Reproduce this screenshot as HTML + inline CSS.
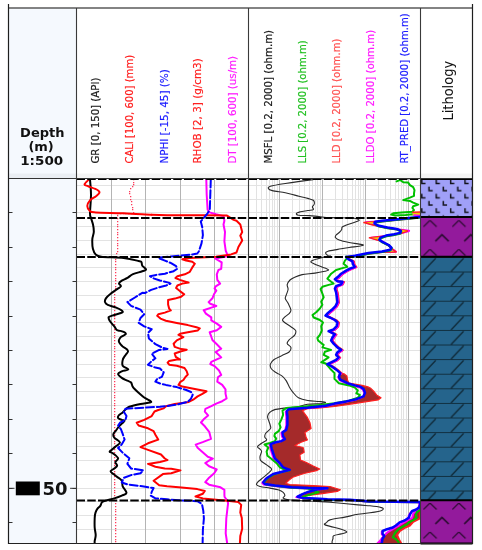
<!DOCTYPE html>
<html><head><meta charset="utf-8"><title>Well log</title>
<style>html,body{margin:0;padding:0;background:#fff;width:482px;height:550px;overflow:hidden}svg{display:block}</style>
</head><body><svg width="482" height="550" viewBox="0 0 482 550"><rect x="8.5" y="8.0" width="68.0" height="535.5" fill="#f5f9fe"/><rect x="8.5" y="173.5" width="464.0" height="4.5" fill="#000" fill-opacity="0.045"/><path d="M76.5 185.50H248.5M248.5 185.50H420.5M76.5 199.50H248.5M248.5 199.50H420.5M76.5 212.50H248.5M248.5 212.50H420.5M76.5 226.50H248.5M248.5 226.50H420.5M76.5 240.50H248.5M248.5 240.50H420.5M76.5 254.50H248.5M248.5 254.50H420.5M76.5 267.50H248.5M248.5 267.50H420.5M76.5 281.50H248.5M248.5 281.50H420.5M76.5 295.50H248.5M248.5 295.50H420.5M76.5 309.50H248.5M248.5 309.50H420.5M76.5 322.50H248.5M248.5 322.50H420.5M76.5 336.50H248.5M248.5 336.50H420.5M76.5 350.50H248.5M248.5 350.50H420.5M76.5 364.50H248.5M248.5 364.50H420.5M76.5 377.50H248.5M248.5 377.50H420.5M76.5 391.50H248.5M248.5 391.50H420.5M76.5 405.50H248.5M248.5 405.50H420.5M76.5 419.50H248.5M248.5 419.50H420.5M76.5 432.50H248.5M248.5 432.50H420.5M76.5 446.50H248.5M248.5 446.50H420.5M76.5 460.50H248.5M248.5 460.50H420.5M76.5 474.50H248.5M248.5 474.50H420.5M76.5 488.50H248.5M248.5 488.50H420.5M76.5 501.50H248.5M248.5 501.50H420.5M76.5 515.50H248.5M248.5 515.50H420.5M76.5 529.50H248.5M248.5 529.50H420.5M76.5 543.50H248.5M248.5 543.50H420.5" stroke="#e3e3e3" stroke-width="1" fill="none"/><path d="M111.50 178.5V543.5M145.50 178.5V543.5M180.50 178.5V543.5M214.50 178.5V543.5" stroke="#b4b4b4" stroke-width="1" fill="none"/><path d="M256.50 178.5V543.5M261.50 178.5V543.5M266.50 178.5V543.5M269.50 178.5V543.5M272.50 178.5V543.5M274.50 178.5V543.5M277.50 178.5V543.5M292.50 178.5V543.5M299.50 178.5V543.5M304.50 178.5V543.5M309.50 178.5V543.5M312.50 178.5V543.5M315.50 178.5V543.5M317.50 178.5V543.5M320.50 178.5V543.5M335.50 178.5V543.5M342.50 178.5V543.5M347.50 178.5V543.5M352.50 178.5V543.5M355.50 178.5V543.5M358.50 178.5V543.5M360.50 178.5V543.5M363.50 178.5V543.5M378.50 178.5V543.5M385.50 178.5V543.5M390.50 178.5V543.5M395.50 178.5V543.5M398.50 178.5V543.5M401.50 178.5V543.5M403.50 178.5V543.5M406.50 178.5V543.5" stroke="#e2e2e2" stroke-width="1" fill="none"/><path d="M279.50 178.5V543.5M322.50 178.5V543.5M365.50 178.5V543.5M408.50 178.5V543.5" stroke="#b4b4b4" stroke-width="1" fill="none"/><path d="M8.5 212.50h4M72.5 212.50h4M8.5 247.50h4M72.5 247.50h4M8.5 281.50h4M72.5 281.50h4M8.5 316.50h4M72.5 316.50h4M8.5 350.50h4M72.5 350.50h4M8.5 384.50h4M72.5 384.50h4M8.5 419.50h4M72.5 419.50h4M8.5 453.50h4M72.5 453.50h4M8.5 488.50h4M72.5 488.50h4M8.5 522.50h4M72.5 522.50h4" stroke="#333" stroke-width="1" fill="none"/><defs>
<pattern id="pL" patternUnits="userSpaceOnUse" x="421.1" y="178.2" width="14.4" height="14.4">
<path d="M0.7 1.2V5.2H4.4M7.9 8.4V12.4H11.6" stroke="#101018" stroke-width="1.5" fill="none"/>
</pattern>
<pattern id="pC1" patternUnits="userSpaceOnUse" x="423.4" y="220.3" width="28.9" height="28.9">
<path d="M0 6.5L6.6 0L13.3 6.5M12 20.9L18.6 14.4L25.3 20.9" stroke="#2a0a30" stroke-width="1.2" fill="none"/>
<path d="M-16.9 20.9L-10.3 14.4L-3.6 20.9" stroke="#2a0a30" stroke-width="1.2" fill="none" transform="translate(28.9 0)"/>
</pattern>
<pattern id="pC2" patternUnits="userSpaceOnUse" x="423.4" y="503" width="28.9" height="28.9">
<path d="M0 6.5L6.6 0L13.3 6.5M12 20.9L18.6 14.4L25.3 20.9" stroke="#2a0a30" stroke-width="1.2" fill="none"/>
<path d="M-16.9 20.9L-10.3 14.4L-3.6 20.9" stroke="#2a0a30" stroke-width="1.2" fill="none" transform="translate(28.9 0)"/>
</pattern>
<pattern id="pD" patternUnits="userSpaceOnUse" x="421.7" y="257.9" width="27.9" height="14.6">
<path d="M0 14.6H27.9" stroke="#081820" stroke-width="1.4" fill="none"/>
<path d="M1.5 13.6L14 0.4" stroke="#081820" stroke-width="1.1" fill="none"/>
</pattern>
</defs><rect x="420.5" y="179.0" width="52.0" height="38.0" fill="#a0a0f8"/><rect x="420.5" y="217.0" width="52.0" height="39.69999999999999" fill="#931a9c"/><rect x="420.5" y="256.7" width="52.0" height="243.5" fill="#25648c"/><rect x="420.5" y="500.2" width="52.0" height="43.30000000000001" fill="#931a9c"/><rect x="420.5" y="179.0" width="52.0" height="38.0" fill="url(#pL)"/><rect x="420.5" y="217.0" width="52.0" height="39.69999999999999" fill="url(#pC1)"/><rect x="420.5" y="256.7" width="52.0" height="243.5" fill="url(#pD)"/><rect x="420.5" y="500.2" width="52.0" height="43.30000000000001" fill="url(#pC2)"/><path d="M420.5 179.0H472.5M420.5 217.0H472.5M420.5 256.7H472.5M420.5 500.2H472.5M420.5 543.5H472.5" stroke="#000" stroke-width="2" fill="none"/><defs><clipPath id="c1"><rect x="76.5" y="178.5" width="172.0" height="365.0"/></clipPath><clipPath id="c2"><rect x="248.5" y="178.5" width="172.0" height="365.0"/></clipPath></defs><g clip-path="url(#c1)"><path d="M133 179h1.3v1.3h-1.3zM133 182h1.3v1.3h-1.3zM133 184h1.3v1.3h-1.3zM132 186h1.3v1.3h-1.3zM130 188h1.3v1.3h-1.3zM129 191h1.3v1.3h-1.3zM129 193h1.3v1.3h-1.3zM130 196h1.3v1.3h-1.3zM130 199h1.3v1.3h-1.3zM131 201h1.3v1.3h-1.3zM131 204h1.3v1.3h-1.3zM132 207h1.3v1.3h-1.3zM132 209h1.3v1.3h-1.3zM133 212h1.3v1.3h-1.3zM131 213h1.3v1.3h-1.3zM128 213h1.3v1.3h-1.3zM125 213h1.3v1.3h-1.3zM123 213h1.3v1.3h-1.3zM120 213h1.3v1.3h-1.3zM117 213h1.3v1.3h-1.3zM117 215h1.3v1.3h-1.3zM117 218h1.3v1.3h-1.3zM117 221h1.3v1.3h-1.3zM117 224h1.3v1.3h-1.3zM117 226h1.3v1.3h-1.3zM117 229h1.3v1.3h-1.3zM117 232h1.3v1.3h-1.3zM117 234h1.3v1.3h-1.3zM117 237h1.3v1.3h-1.3zM117 240h1.3v1.3h-1.3zM117 243h1.3v1.3h-1.3zM117 245h1.3v1.3h-1.3zM117 248h1.3v1.3h-1.3zM117 251h1.3v1.3h-1.3zM116 253h1.3v1.3h-1.3zM116 256h1.3v1.3h-1.3zM115 259h1.3v1.3h-1.3zM115 261h1.3v1.3h-1.3zM115 264h1.3v1.3h-1.3zM115 267h1.3v1.3h-1.3zM115 269h1.3v1.3h-1.3zM115 272h1.3v1.3h-1.3zM115 275h1.3v1.3h-1.3zM115 278h1.3v1.3h-1.3zM115 280h1.3v1.3h-1.3zM115 283h1.3v1.3h-1.3zM115 286h1.3v1.3h-1.3zM115 288h1.3v1.3h-1.3zM114 291h1.3v1.3h-1.3zM114 294h1.3v1.3h-1.3zM114 297h1.3v1.3h-1.3zM114 299h1.3v1.3h-1.3zM114 302h1.3v1.3h-1.3zM114 305h1.3v1.3h-1.3zM114 307h1.3v1.3h-1.3zM114 310h1.3v1.3h-1.3zM114 313h1.3v1.3h-1.3zM114 316h1.3v1.3h-1.3zM114 318h1.3v1.3h-1.3zM114 321h1.3v1.3h-1.3zM114 324h1.3v1.3h-1.3zM114 327h1.3v1.3h-1.3zM114 329h1.3v1.3h-1.3zM114 332h1.3v1.3h-1.3zM114 335h1.3v1.3h-1.3zM114 337h1.3v1.3h-1.3zM114 340h1.3v1.3h-1.3zM114 343h1.3v1.3h-1.3zM114 346h1.3v1.3h-1.3zM114 348h1.3v1.3h-1.3zM114 351h1.3v1.3h-1.3zM114 354h1.3v1.3h-1.3zM114 356h1.3v1.3h-1.3zM114 359h1.3v1.3h-1.3zM114 362h1.3v1.3h-1.3zM114 365h1.3v1.3h-1.3zM114 367h1.3v1.3h-1.3zM114 370h1.3v1.3h-1.3zM114 373h1.3v1.3h-1.3zM114 375h1.3v1.3h-1.3zM114 378h1.3v1.3h-1.3zM114 381h1.3v1.3h-1.3zM114 384h1.3v1.3h-1.3zM114 386h1.3v1.3h-1.3zM114 389h1.3v1.3h-1.3zM114 392h1.3v1.3h-1.3zM114 395h1.3v1.3h-1.3zM114 397h1.3v1.3h-1.3zM114 400h1.3v1.3h-1.3zM114 403h1.3v1.3h-1.3zM114 405h1.3v1.3h-1.3zM114 408h1.3v1.3h-1.3zM114 411h1.3v1.3h-1.3zM114 414h1.3v1.3h-1.3zM114 416h1.3v1.3h-1.3zM114 419h1.3v1.3h-1.3zM114 422h1.3v1.3h-1.3zM114 424h1.3v1.3h-1.3zM114 427h1.3v1.3h-1.3zM114 430h1.3v1.3h-1.3zM114 433h1.3v1.3h-1.3zM114 435h1.3v1.3h-1.3zM114 438h1.3v1.3h-1.3zM114 441h1.3v1.3h-1.3zM114 443h1.3v1.3h-1.3zM114 446h1.3v1.3h-1.3zM114 449h1.3v1.3h-1.3zM114 452h1.3v1.3h-1.3zM114 454h1.3v1.3h-1.3zM114 457h1.3v1.3h-1.3zM114 460h1.3v1.3h-1.3zM114 463h1.3v1.3h-1.3zM114 465h1.3v1.3h-1.3zM114 468h1.3v1.3h-1.3zM114 471h1.3v1.3h-1.3zM114 473h1.3v1.3h-1.3zM114 476h1.3v1.3h-1.3zM114 479h1.3v1.3h-1.3zM114 482h1.3v1.3h-1.3zM114 484h1.3v1.3h-1.3zM114 487h1.3v1.3h-1.3zM114 490h1.3v1.3h-1.3zM114 492h1.3v1.3h-1.3zM114 495h1.3v1.3h-1.3zM114 498h1.3v1.3h-1.3zM115 500h1.3v1.3h-1.3zM115 503h1.3v1.3h-1.3zM115 506h1.3v1.3h-1.3zM115 509h1.3v1.3h-1.3zM115 511h1.3v1.3h-1.3zM115 514h1.3v1.3h-1.3zM115 517h1.3v1.3h-1.3zM115 519h1.3v1.3h-1.3zM115 522h1.3v1.3h-1.3zM115 525h1.3v1.3h-1.3zM115 528h1.3v1.3h-1.3zM115 530h1.3v1.3h-1.3zM115 533h1.3v1.3h-1.3zM115 536h1.3v1.3h-1.3zM115 539h1.3v1.3h-1.3zM115 541h1.3v1.3h-1.3z" fill="#ff3a5a"/><path d="M90.0,179.5C90.2,182.0 91.0,189.1 91.0,194.7C91.0,200.3 90.0,209.4 90.0,213.3C90.0,217.2 90.5,216.1 91.0,218.0C91.5,219.9 92.5,222.2 93.0,224.5C93.5,226.8 93.9,229.5 93.8,232.0C93.7,234.5 92.4,236.7 92.3,239.5C92.2,242.3 92.3,246.3 92.9,248.8C93.5,251.3 94.3,253.1 95.7,254.4C97.1,255.7 96.6,256.1 101.3,256.7C106.0,257.3 117.5,257.3 123.7,258.0C129.9,258.7 135.7,260.3 138.6,261.0C141.5,261.7 140.8,261.2 141.4,262.0C142.0,262.8 141.5,264.4 142.3,265.7C143.1,266.9 146.1,268.6 146.1,269.5C146.1,270.4 144.5,270.5 142.3,271.3C140.1,272.1 135.5,273.0 133.0,274.1C130.5,275.2 129.3,276.8 127.4,277.9C125.5,279.0 123.2,279.8 121.8,280.7C120.4,281.6 119.2,282.6 119.0,283.5C118.8,284.4 121.2,285.4 120.9,286.3C120.6,287.2 118.8,287.9 117.1,289.1C115.4,290.3 112.5,292.1 110.6,293.7C108.7,295.2 106.8,297.0 105.9,298.4C105.0,299.8 104.7,301.0 105.0,302.1C105.3,303.2 105.9,304.0 107.8,304.9C109.7,305.8 113.7,306.6 116.2,307.7C118.7,308.8 122.1,310.6 122.7,311.5C123.3,312.4 121.5,312.7 119.9,313.3C118.4,313.9 115.3,314.6 113.4,315.2C111.5,315.8 109.3,316.2 108.7,317.1C108.1,318.0 108.8,319.2 109.7,320.8C110.6,322.4 113.1,324.9 114.3,326.4C115.5,327.9 115.8,329.2 116.8,330.0C117.8,330.8 119.2,330.5 120.5,330.9C121.8,331.3 124.1,331.9 124.9,332.5C125.7,333.1 126.1,333.7 125.5,334.4C124.9,335.1 122.3,335.9 121.2,336.8C120.1,337.7 119.3,339.1 119.0,340.0C118.7,340.9 118.7,341.4 119.3,342.4C119.9,343.4 121.2,345.0 122.4,346.2C123.7,347.4 125.9,348.4 126.8,349.3C127.7,350.2 128.1,350.7 128.0,351.5C127.9,352.3 126.7,353.4 126.1,354.3C125.5,355.2 124.9,355.8 124.3,356.8C123.7,357.8 123.0,358.6 122.7,360.1C122.4,361.6 121.8,364.1 122.7,365.7C123.6,367.3 128.5,368.6 128.3,369.5C128.2,370.4 123.5,370.5 121.8,371.3C120.1,372.1 118.1,373.0 118.1,374.1C118.1,375.2 120.2,376.8 121.8,377.9C123.3,379.0 125.9,379.9 127.4,380.7C129.0,381.5 130.2,381.4 131.1,382.5C132.0,383.6 131.8,385.5 133.0,387.2C134.2,388.9 136.7,391.1 138.6,392.8C140.5,394.5 142.2,396.1 144.2,397.5C146.2,398.9 149.8,400.4 150.7,401.2C151.6,402.0 151.5,402.0 149.8,402.5C148.1,403.0 143.9,403.3 140.5,404.0C137.1,404.7 131.8,405.9 129.3,406.8C126.8,407.7 126.6,408.7 125.5,409.6C124.4,410.5 123.8,411.5 122.7,412.4C121.6,413.3 119.8,414.3 119.0,415.2C118.2,416.1 117.6,417.2 118.1,418.0C118.6,418.8 120.7,419.4 121.8,419.9C122.9,420.4 124.6,420.2 124.6,420.8C124.6,421.4 122.7,422.7 121.8,423.6C120.9,424.5 119.9,425.3 119.0,426.4C118.1,427.5 117.1,428.9 116.2,430.2C115.3,431.5 113.7,432.8 113.4,434.0C113.1,435.2 113.2,436.3 114.3,437.7C115.4,439.1 119.6,441.0 119.9,442.4C120.2,443.8 117.6,444.9 116.2,446.1C114.8,447.4 112.6,449.0 111.5,449.9C110.4,450.8 109.4,451.1 109.7,451.7C110.0,452.3 112.0,452.5 113.4,453.6C114.8,454.7 117.8,456.9 118.1,458.3C118.4,459.7 115.5,460.8 115.3,462.0C115.1,463.2 117.3,464.6 117.1,465.7C116.9,466.8 115.4,467.6 114.3,468.5C113.2,469.4 110.8,470.4 110.6,471.3C110.4,472.2 112.3,473.2 113.4,474.1C114.5,475.0 115.7,475.8 117.1,476.9C118.5,478.0 120.9,479.1 121.8,480.7C122.7,482.3 121.9,484.3 122.7,486.3C123.5,488.3 126.7,491.2 126.5,492.8C126.3,494.4 123.8,494.7 121.8,495.6C119.8,496.5 116.8,497.6 114.3,498.4C111.8,499.2 108.9,499.7 106.9,500.3C104.9,500.9 103.3,501.2 102.2,502.1C101.1,503.0 101.1,504.8 100.3,505.9C99.5,507.0 98.3,507.6 97.5,508.7C96.7,509.8 96.0,511.1 95.5,512.6C95.0,514.1 94.8,515.5 94.7,518.0C94.6,520.5 94.5,524.8 94.7,527.7C94.9,530.6 95.7,533.0 95.7,535.2C95.7,537.4 94.9,539.4 94.7,540.8C94.5,542.2 94.7,543.0 94.7,543.5" stroke="#000" stroke-width="2" fill="none" stroke-linejoin="round" stroke-linecap="round" /><polyline points="206.3,179.5 206.7,194.7 207.6,209.6 209.5,212.4 216.0,214.3 223.5,216.1 224.4,220.8 223.5,224.5 225.0,232.0 224.4,241.3 225.7,250.7 227.2,254.4 229.1,255.9 215.2,258.5 221.7,262.4 221.2,268.9 218.4,270.0 216.8,274.3 217.3,279.8 220.1,283.6 215.7,286.3 214.6,288.5 216.3,290.7 214.1,294.0 212.4,298.3 208.6,302.1 210.3,303.8 216.3,306.0 211.3,307.6 203.7,310.3 205.9,313.6 211.3,317.4 211.3,320.4 216.8,323.6 221.2,326.9 216.8,330.2 209.7,332.3 211.3,336.7 212.4,340.0 216.8,344.3 221.2,348.7 215.7,352.0 221.2,357.4 211.3,361.8 210.3,364.0 214.6,366.1 219.0,370.5 221.2,374.9 217.9,377.3 217.3,381.6 222.2,384.9 225.5,389.3 225.5,393.6 226.6,398.5 222.2,401.2 216.8,403.4 211.3,406.2 205.4,408.9 204.8,411.6 208.1,415.4 204.3,418.7 201.0,422.5 204.8,426.3 209.2,431.8 209.7,433.8 211.0,438.9 202.7,442.1 195.7,444.6 197.6,447.8 202.7,452.3 207.8,456.7 212.9,458.6 209.1,460.5 205.3,463.1 209.1,466.3 216.7,469.4 214.2,473.3 209.1,477.7 205.3,482.2 209.1,484.7 220.5,487.3 224.4,489.8 224.4,494.9 224.6,497.0 227.2,500.3 228.1,503.1 227.2,510.5 226.3,518.4 225.7,533.3 227.2,543.5" stroke="#ff00ff" stroke-width="2" fill="none" stroke-linejoin="round" stroke-linecap="round" /><path d="M88.2,180.2C87.6,180.9 84.5,183.4 84.5,184.4C84.5,185.4 86.0,185.4 88.2,186.3C90.4,187.2 95.6,188.9 97.5,190.0C99.4,191.1 99.7,191.7 99.4,192.8C99.1,193.9 97.3,195.2 95.7,196.5C94.1,197.8 91.4,198.7 90.0,200.3C88.6,201.9 87.3,204.1 87.3,205.9C87.3,207.7 88.6,210.0 90.0,211.1C91.4,212.2 90.1,212.0 95.7,212.4C101.3,212.8 114.4,212.9 123.7,213.3C133.0,213.7 147.0,214.6 151.7,214.8" stroke="#ff0000" stroke-width="2" fill="none" stroke-linejoin="round" stroke-linecap="round" /><polyline points="151.7,214.8 167.0,215.2 204.8,215.2 227.0,215.6 233.7,219.9 236.5,220.8 240.3,224.5 242.2,232.0 240.3,235.7 242.2,240.4 238.4,247.0 236.5,252.5 231.0,254.4 216.0,256.7 200.0,257.5 189.8,258.1 182.3,259.3 186.1,260.6 192.3,261.8 194.8,263.7 192.3,267.4 189.8,271.8 184.8,274.3 177.4,276.2 175.5,278.0 179.9,279.9 188.6,282.6 182.3,283.6 177.4,285.5 176.1,288.0 179.9,291.1 184.2,294.2 181.1,296.7 174.9,298.6 168.1,300.0 168.1,304.4 169.2,308.7 170.8,310.4 164.8,312.6 158.3,314.2 157.2,315.8 160.5,318.6 165.9,320.7 176.8,322.9 187.8,325.1 196.5,327.3 199.8,328.4 197.6,330.6 187.8,332.2 180.1,333.8 178.5,334.9 183.4,337.1 176.8,340.4 173.6,343.7 174.7,346.9 181.2,349.1 186.7,349.7 181.2,351.3 174.7,353.5 175.7,356.8 180.1,359.5 176.8,359.5 169.2,360.9 167.6,362.6 169.2,364.7 176.8,365.8 184.5,368.0 186.7,371.3 187.8,374.6 185.6,376.7 183.4,380.0 180.1,382.2 178.5,384.9 182.3,386.6 191.0,388.2 198.7,389.8 206.5,391.3 201.9,394.2 197.6,396.4 193.2,399.7 188.8,401.9 182.3,402.9 174.7,404.0 165.9,406.2 163.7,408.4 158.3,410.0 154.5,411.5 151.7,416.1 144.2,419.9 136.7,422.7 138.6,425.5 148.0,428.3 153.6,431.1 155.4,434.8 158.2,439.6 148.0,443.3 140.5,447.1 148.0,449.9 161.0,454.5 164.8,458.5 167.5,460.1 160.0,462.0 148.0,463.9 155.4,466.7 164.8,468.5 171.2,468.8 180.5,470.4 171.2,473.2 162.9,474.1 153.6,480.7 159.2,485.3 167.0,486.3 178.7,487.2 197.3,489.1 204.8,491.0 202.9,493.7 195.5,496.5 202.9,498.4 216.0,499.7 227.2,500.8 238.4,502.1 241.2,504.9 240.3,512.4 241.8,518.0 242.2,528.7 240.3,536.1 239.9,543.5" stroke="#ff0000" stroke-width="2" fill="none" stroke-linejoin="round" stroke-linecap="round" /><polyline points="210.8,179.5 210.3,194.7 209.8,209.6 207.6,213.3 205.0,216.5 200.8,221.4 202.2,226.9 202.9,235.2 201.5,243.4 198.8,251.5 197.3,253.5 192.3,254.4 181.1,255.6 171.1,256.5 158.7,257.5 158.7,258.1 164.9,260.6 171.1,263.1 176.1,266.2 177.4,268.7 173.6,271.2 164.9,273.7 156.2,274.9 150.0,276.2 152.5,278.0 159.9,280.5 168.6,282.6 170.5,283.6 166.2,285.5 158.7,287.4 151.2,289.9 145.0,293.0 142.3,292.8 134.9,297.5 127.4,302.1 131.1,305.9 140.5,309.6 144.2,314.3 140.5,318.0 138.6,322.7 144.2,326.4 151.7,329.2 148.0,332.9 148.9,338.5 155.4,344.2 162.9,347.9 167.5,348.9 159.2,349.9 151.7,353.6 155.4,358.3 151.7,361.1 148.0,364.8 155.4,367.6 160.0,368.5 163.7,372.3 161.9,376.9 157.3,378.8 155.4,381.6 160.0,383.5 165.9,384.9 176.8,387.1 185.6,389.8 191.0,392.0 192.7,394.8 191.0,398.6 187.8,401.9 176.8,404.6 165.9,406.2 160.0,406.7 146.0,407.5 125.5,408.7 123.7,411.5 126.5,416.1 125.5,419.9 120.0,422.7 118.1,425.5 120.9,429.2 122.7,433.9 124.6,439.6 121.8,444.3 118.1,448.0 122.7,452.7 129.3,458.3 127.4,463.9 131.1,468.5 143.3,470.4 140.5,473.2 131.1,475.1 123.7,477.9 121.8,482.5 127.4,484.4 142.3,486.3 153.6,488.1 151.7,491.9 150.7,495.6 155.4,498.4 167.0,499.3 178.7,500.3 197.3,501.2 202.0,504.0 203.3,510.9 203.9,518.4 202.9,529.6 202.6,543.5" stroke="#0000ff" stroke-width="2" fill="none" stroke-linejoin="round" stroke-linecap="round" stroke-dasharray="8 2.8" stroke-linecap="butt"/></g><g clip-path="url(#c2)"><path d="M313.0,179.6C308.4,180.2 292.4,182.4 285.3,183.5C278.2,184.6 273.2,185.4 270.4,186.3C267.6,187.2 268.2,188.0 268.5,188.7C268.8,189.4 269.5,189.9 272.3,190.6C275.1,191.3 281.3,192.0 285.3,192.8C289.3,193.6 292.8,194.7 296.5,195.6C300.2,196.5 304.9,197.6 307.7,198.4C310.5,199.2 312.2,199.4 313.3,200.3C314.4,201.2 314.5,202.9 314.3,204.0C314.1,205.1 312.6,205.9 312.4,206.8C312.2,207.7 314.1,209.0 313.3,209.6C312.5,210.2 309.9,210.1 307.7,210.5C305.5,210.9 302.2,211.3 300.3,211.8C298.4,212.3 296.8,212.7 296.5,213.3C296.2,213.9 296.2,214.8 298.4,215.2C300.6,215.6 306.2,215.4 309.6,215.6C313.0,215.8 315.6,216.3 319.0,216.6C322.4,216.9 324.5,217.4 330.0,217.6C335.5,217.8 347.1,217.6 352.0,218.0C356.9,218.4 358.5,219.4 359.1,220.1C359.7,220.8 357.3,221.3 355.4,222.0C353.5,222.7 350.1,223.7 347.9,224.5C345.7,225.3 343.3,226.2 342.3,227.0C341.3,227.8 342.2,228.5 341.7,229.4C341.2,230.3 340.1,231.6 339.2,232.5C338.3,233.4 336.7,234.2 336.1,235.0C335.5,235.8 334.9,236.7 335.4,237.5C335.9,238.3 336.9,239.2 339.2,240.0C341.5,240.8 345.8,241.8 349.1,242.5C352.4,243.2 356.7,243.7 359.1,244.1C361.5,244.5 363.5,244.7 363.5,245.0C363.5,245.3 361.5,245.8 359.1,246.2C356.7,246.6 352.6,247.0 349.1,247.5C345.6,248.0 341.4,248.8 337.9,249.4C334.4,250.0 330.1,250.6 328.0,251.2C325.9,251.8 325.5,252.4 325.5,253.1C325.5,253.8 327.2,255.1 328.0,255.6C328.8,256.1 331.4,255.9 330.5,256.2C329.6,256.5 325.6,256.7 322.4,257.5C319.2,258.3 312.4,260.1 311.2,261.2C310.0,262.3 312.7,263.1 315.0,264.3C317.3,265.5 322.6,267.2 324.9,268.1C327.2,269.1 328.7,269.5 328.7,270.0C328.7,270.5 327.2,270.7 324.9,271.2C322.6,271.7 318.8,272.5 315.0,273.1C311.2,273.7 305.5,273.9 302.1,274.6C298.7,275.3 296.7,276.3 294.7,277.2C292.7,278.1 291.2,278.8 290.0,280.0C288.8,281.2 287.5,283.1 287.2,284.7C286.9,286.2 288.2,287.6 288.1,289.3C288.0,291.0 286.8,293.3 286.3,294.9C285.8,296.5 285.0,297.3 285.3,298.7C285.6,300.1 287.2,301.4 288.1,303.3C289.0,305.2 290.7,308.2 290.9,309.9C291.1,311.6 290.2,312.4 289.1,313.6C288.0,314.8 285.5,316.2 284.4,317.3C283.3,318.4 282.4,319.2 282.5,320.1C282.6,321.1 283.9,321.9 285.3,323.0C286.7,324.1 289.2,325.5 290.9,326.7C292.6,327.9 295.0,329.0 295.6,330.4C296.2,331.8 295.8,333.5 294.7,335.1C293.6,336.7 290.4,338.4 289.1,339.8C287.9,341.2 286.9,342.4 287.2,343.6C287.5,344.9 290.6,345.9 290.9,347.3C291.2,348.7 290.7,350.6 289.1,352.0C287.6,353.4 284.1,354.4 281.6,355.7C279.1,356.9 276.0,358.1 274.1,359.5C272.2,360.9 270.9,362.6 270.4,364.1C269.9,365.7 270.4,367.4 271.3,368.8C272.2,370.2 274.1,371.2 276.0,372.5C277.9,373.8 280.8,374.9 282.5,376.3C284.2,377.7 285.2,379.2 286.3,380.9C287.4,382.6 288.0,384.6 289.1,386.5C290.2,388.4 291.2,390.2 292.8,392.1C294.4,394.0 295.9,396.3 298.4,397.7C300.9,399.1 304.3,399.9 307.7,400.5C311.1,401.1 316.0,401.2 319.0,401.5C322.0,401.8 325.2,402.0 325.5,402.4C325.8,402.8 323.8,403.4 320.8,403.7C317.8,404.0 311.8,403.7 307.7,404.3C303.6,404.9 300.2,406.5 296.5,407.1C292.8,407.7 289.0,407.5 285.3,408.0C281.6,408.5 276.7,409.1 274.1,409.9C271.5,410.7 270.6,411.6 269.5,412.7C268.4,413.8 267.8,415.2 267.6,416.4C267.4,417.6 268.0,418.5 268.5,420.1C269.0,421.7 270.1,424.4 270.4,425.8C270.7,427.2 271.2,427.4 270.4,428.7C269.6,429.9 266.6,431.9 265.7,433.3C264.8,434.7 264.6,436.0 264.8,437.1C265.0,438.2 267.1,439.0 266.6,440.0C266.1,441.0 263.1,442.2 261.6,443.3C260.1,444.4 257.8,445.6 257.5,446.6C257.2,447.6 259.3,448.3 260.0,449.1C260.7,449.9 261.6,450.4 261.6,451.6C261.6,452.9 260.1,455.1 260.0,456.6C259.9,458.1 259.7,459.3 260.8,460.7C261.9,462.1 264.8,463.5 266.6,464.9C268.4,466.3 271.3,467.6 271.6,469.0C271.9,470.4 269.8,471.7 268.3,473.2C266.8,474.7 264.2,476.7 262.4,478.2C260.6,479.7 258.5,481.2 257.5,482.3C256.5,483.4 256.2,484.1 256.6,484.8C257.0,485.5 257.8,485.9 260.0,486.5C262.2,487.1 266.9,487.6 269.9,488.1C272.9,488.7 276.0,489.1 278.2,489.8C280.4,490.5 282.1,491.3 283.2,492.3C284.3,493.3 284.9,494.6 284.9,495.6C284.9,496.6 282.6,497.4 283.2,498.1C283.8,498.8 285.4,499.4 288.2,499.8C291.0,500.2 295.1,500.3 299.8,500.6C304.5,500.9 311.4,501.1 316.4,501.4C321.4,501.7 323.1,501.6 330.0,502.2C336.9,502.8 351.3,504.3 358.0,504.9C364.7,505.5 366.1,505.4 370.0,505.8C373.9,506.2 379.2,507.0 381.4,507.6C383.6,508.2 383.3,508.7 383.1,509.3C382.9,509.9 381.7,510.5 380.3,511.0C378.9,511.5 378.3,511.6 374.6,512.1C370.9,512.6 362.9,513.5 358.0,514.3C353.1,515.1 349.6,516.2 344.9,517.1C340.2,518.0 333.1,519.0 330.0,519.9C326.9,520.8 327.3,521.9 326.4,522.7C325.5,523.5 323.9,523.9 324.5,524.5C325.1,525.1 327.4,525.6 330.2,526.4C333.0,527.2 338.4,528.3 341.2,529.2C344.0,530.1 346.8,531.2 346.8,532.0C346.8,532.8 343.4,533.3 341.2,533.9C339.0,534.5 335.1,534.9 333.7,535.7C332.3,536.5 333.3,537.4 333.0,538.5C332.7,539.6 332.0,541.4 332.0,542.3C332.0,543.2 332.8,543.7 333.0,544.0" stroke="#2a2a2a" stroke-width="1.1" fill="none" stroke-linejoin="round" stroke-linecap="round" /><polyline points="396.6,181.4 398.5,180.6 400.4,180.1 403.3,182.2 408.2,182.6 409.9,185.1 413.2,187.2 414.5,190.1 414.0,193.4 414.0,195.9 409.9,197.6 403.3,200.1 409.9,200.9 413.2,202.6 418.2,204.6 413.2,206.3 412.4,208.0 414.0,210.0 412.4,211.7 401.6,212.5 393.3,213.3 391.2,214.6 395.0,215.4 405.7,215.0 412.4,214.2 424.0,214.6" stroke="#00c000" stroke-width="2" fill="none" stroke-linejoin="round" stroke-linecap="round" /><polygon points="412.5,212.2 421.0,211.8 421.0,215.8 412.5,215.0" fill="#f0d000"/><polyline points="412.5,212.3 421.0,212.0" stroke="#ff2020" stroke-width="1.4" fill="none" stroke-linejoin="round" stroke-linecap="round" /><polyline points="414.0,215.0 421.0,215.6" stroke="#ff00ff" stroke-width="1.4" fill="none" stroke-linejoin="round" stroke-linecap="round" /><polygon points="340.3,373.1 344.0,373.8 346.9,376.0 347.6,380.3 349.0,383.2 362.1,385.4 367.9,386.9 370.8,388.3 373.7,391.2 376.6,394.9 381.0,397.8 378.1,399.9 363.6,402.1 349.0,404.3 334.5,406.5 320.0,407.9 307.4,408.7 302.4,410.6 307.4,417.4 309.9,422.4 311.1,428.6 304.9,432.4 306.1,437.4 307.4,439.9 301.1,442.3 294.9,445.5 303.1,447.5 303.6,449.2 304.2,452.3 299.9,454.8 300.5,460.0 305.9,462.3 313.3,466.0 319.7,469.0 316.4,470.7 304.0,473.5 292.8,477.2 289.1,480.0 285.7,483.2 289.8,484.5 313.1,485.6 330.0,486.5 340.4,489.8 337.3,491.4 322.4,493.6 308.7,495.4 297.5,496.7 297.5,496.7 302.5,494.2 308.7,491.7 317.4,489.2 327.4,488.3 308.1,488.1 291.5,487.3 274.9,485.6 264.9,484.0 263.3,482.3 266.6,478.2 273.2,474.0 283.2,471.5 289.8,469.9 283.2,467.4 279.9,463.2 274.9,458.3 273.2,453.3 271.6,448.3 270.7,444.1 274.9,442.5 281.2,441.1 284.9,439.2 283.1,436.1 282.5,432.4 286.2,429.9 287.4,424.9 287.4,416.2 286.8,411.2 288.7,409.3 307.4,407.7 325.8,405.7 334.5,403.6 346.1,401.4 356.3,399.2 363.6,396.3 365.0,392.7 363.6,389.0 360.7,386.9 354.9,385.4 347.6,383.2 340.3,379.6 338.9,376.7 340.3,373.1" fill="#a52a2a" stroke="none"/><polygon points="420.5,506.0 419.1,508.7 413.4,513.3 412.2,517.8 404.2,522.4 398.5,525.8 392.8,529.2 387.1,532.7 383.7,536.1 379.1,541.8 376.8,544.0 401.5,544.0 399.0,539.5 397.0,535.0 400.0,531.0 405.5,527.5 409.9,525.6 413.2,521.8 420.0,518.3 420.0,513.6 421.0,509.0" fill="#a52a2a" stroke="none"/><polyline points="340.3,373.1 344.0,373.8 346.9,376.0 347.6,380.3 349.0,383.2 362.1,385.4 367.9,386.9 370.8,388.3 373.7,391.2 376.6,394.9 381.0,397.8 378.1,399.9 363.6,402.1 349.0,404.3 334.5,406.5 320.0,407.9 307.4,408.7 302.4,410.6 307.4,417.4 309.9,422.4 311.1,428.6 304.9,432.4 306.1,437.4 307.4,439.9 301.1,442.3 294.9,445.5 303.1,447.5 303.6,449.2 304.2,452.3 299.9,454.8 300.5,460.0 305.9,462.3 313.3,466.0 319.7,469.0 316.4,470.7 304.0,473.5 292.8,477.2 289.1,480.0 285.7,483.2 289.8,484.5 313.1,485.6 330.0,486.5 340.4,489.8 337.3,491.4 322.4,493.6 308.7,495.4 297.5,496.7" stroke="#ff2020" stroke-width="1.2" fill="none" stroke-linejoin="round" stroke-linecap="round" /><polyline points="424.0,216.8 408.9,218.6 395.5,219.9 382.0,221.3 366.0,222.4 372.0,224.3 377.9,226.0 387.4,228.0 396.8,229.4 409.0,230.9 400.2,233.4 394.1,234.8 386.0,236.1 371.5,237.8 380.5,240.5 388.7,245.5 392.5,249.3 395.8,251.7 382.0,252.0 368.5,253.6 355.0,256.3 347.0,257.2" stroke="#ff00ff" stroke-width="2.2" fill="none" stroke-linejoin="round" stroke-linecap="round" /><polyline points="424.0,216.8 408.9,218.6 395.5,219.9 382.0,221.3 364.0,222.6 370.0,224.3 377.9,226.0 387.4,228.0 396.8,229.4 407.5,231.0 400.2,233.4 394.1,234.8 386.0,236.1 369.5,237.8 380.0,240.8 388.7,245.5 393.0,249.5 396.0,251.9 382.0,252.0 368.5,253.6 355.0,256.3 347.0,257.2" stroke="#ff2020" stroke-width="1.6" fill="none" stroke-linejoin="round" stroke-linecap="round" /><polygon points="366.0,222.5 373.0,221.8 372.5,224.0" fill="#f0d000" stroke="none"/><polygon points="407.0,231.0 401.5,229.8 401.5,232.3" fill="#f0d000" stroke="none"/><polygon points="371.5,237.8 379.0,237.3 378.6,239.8" fill="#f0d000" stroke="none"/><polygon points="394.5,251.5 389.0,249.5 388.0,251.8" fill="#f0d000" stroke="none"/><polyline points="347.7,257.2 350.2,259.7 353.9,261.5 354.5,264.6 356.4,267.1 351.4,269.0 347.7,270.9 342.7,274.0 339.6,277.1 336.5,279.6 339.0,281.5 344.0,282.1 342.7,284.6 337.7,286.4 336.5,288.9 337.7,292.7 338.4,297.6 339.0,302.6 337.1,306.4 333.4,310.1 329.6,313.2 327.1,315.9 331.5,317.8 336.5,320.3 339.0,322.8 338.3,326.5 335.2,329.6 330.2,331.5 332.7,332.7 336.5,334.6 334.0,337.7 332.7,340.8 335.2,343.9 339.0,347.7 342.7,350.2 339.0,352.6 337.7,355.1 340.2,357.6 337.7,360.1 332.7,362.6 329.0,364.5 332.7,366.3 337.6,369.7 341.9,373.4" stroke="#ff2020" stroke-width="2" fill="none" stroke-linejoin="round" stroke-linecap="round" /><polyline points="347.1,257.5 349.6,260.0 353.3,261.8 353.9,264.9 355.8,267.4 350.8,269.3 347.1,271.2 342.1,274.3 339.0,277.4 335.9,279.9 338.4,281.8 343.4,282.4 342.1,284.9 337.1,286.7 335.9,289.2 337.1,293.0 337.8,297.9 338.4,302.9 336.5,306.7 332.8,310.4 329.0,313.5 326.5,316.2 330.9,318.1 335.9,320.6 338.4,323.1 337.7,326.8 334.6,329.9 329.6,331.8 332.1,333.0 335.9,334.9 333.4,338.0 332.1,341.1 334.6,344.2 338.4,348.0 342.1,350.5 338.4,352.9 337.1,355.4 339.6,357.9 337.1,360.4 332.1,362.9 328.4,364.8 332.1,366.6 337.0,370.0 341.3,373.7" stroke="#ff00ff" stroke-width="2" fill="none" stroke-linejoin="round" stroke-linecap="round" /><polyline points="339.5,373.9 338.1,377.5 339.5,380.4 346.8,384.0 354.1,386.2 359.9,387.7 362.8,389.8 364.2,393.5 362.8,397.1 355.5,400.0 345.3,402.2 333.7,404.4 325.0,406.5 306.6,408.5" stroke="#ff00ff" stroke-width="1.6" fill="none" stroke-linejoin="round" stroke-linecap="round" /><polyline points="287.4,409.9 285.5,411.8 286.1,416.8 286.1,425.5 284.9,430.5 281.2,433.0 281.8,436.7 283.6,439.8 279.9,441.7 273.6,443.1 269.4,444.7 270.3,448.9 271.9,453.9 273.6,458.9 278.6,463.8 281.9,468.0 288.5,470.5 281.9,472.1 271.9,474.6 265.3,478.8 262.0,482.9 263.6,484.6 273.6,486.2 290.2,487.9 306.8,488.7 326.1,488.9 316.1,489.8 307.4,492.3 301.2,494.8 296.2,497.3" stroke="#ff00ff" stroke-width="1.6" fill="none" stroke-linejoin="round" stroke-linecap="round" /><polyline points="296.5,497.1 301.5,498.3 313.9,498.9 326.4,499.6 348.8,500.2 369.0,501.9 418.7,502.4 419.2,504.5 418.1,508.0 414.7,510.2 411.2,511.4 409.0,514.8 407.8,518.2 403.2,521.1 398.7,522.8 395.3,525.7 391.8,527.9 386.1,529.6 381.6,531.4 381.6,534.2 383.3,536.5 381.6,538.8 381.0,542.2 380.4,544.4" stroke="#ff00ff" stroke-width="1.6" fill="none" stroke-linejoin="round" stroke-linecap="round" /><polyline points="421.0,509.0 420.0,513.6 420.0,518.3 413.2,521.8 409.9,525.6 405.5,527.5 400.0,531.0 397.0,535.0 399.0,539.5 401.5,544.0" stroke="#ff2020" stroke-width="2" fill="none" stroke-linejoin="round" stroke-linecap="round" /><polyline points="420.5,506.0 419.1,508.7 413.4,513.3 412.2,517.8 404.2,522.4 398.5,525.8 392.8,529.2 387.1,532.7 383.7,536.1 379.1,541.8 376.8,544.0" stroke="#ff00ff" stroke-width="2" fill="none" stroke-linejoin="round" stroke-linecap="round" /><polyline points="346.0,256.5 347.3,258.1 344.9,260.6 343.6,263.7 347.3,266.8 342.4,268.1 336.1,270.0 331.2,273.7 327.4,278.7 331.2,281.8 333.6,283.6 328.7,284.9 322.4,286.8 320.6,289.2 322.4,293.6 323.7,297.3 321.2,301.7 322.4,304.8 319.9,308.5 316.2,312.3 312.5,315.0 313.7,317.5 319.9,320.0 323.0,322.5 321.2,326.2 321.8,330.5 319.9,334.9 317.4,338.0 318.1,340.5 321.8,343.6 323.7,344.9 322.4,347.4 331.1,349.9 324.9,351.7 323.7,354.8 328.6,357.3 324.9,359.8 321.2,362.3 325.8,363.5 330.2,368.7 334.5,373.1 334.5,378.9 338.9,383.2 349.0,385.4 354.9,387.6 357.8,390.5 356.3,393.4 359.9,394.9 357.8,397.8 349.0,400.7 334.5,403.3 320.0,405.0 307.4,406.2 286.2,408.1 282.5,410.6 283.1,414.9 281.2,419.9 279.3,423.7 280.6,427.4 278.7,431.1 275.0,433.6 274.4,436.1 276.2,438.6 275.0,441.1 270.0,443.0 264.5,444.5 268.3,447.5 266.6,451.6 267.4,455.8 270.7,458.3 276.6,463.2 279.9,467.4 284.9,469.9 289.8,470.2 283.0,471.8 275.0,474.0 268.0,478.0 264.0,482.0 266.0,484.5 276.0,486.0 291.5,487.8 308.0,488.5 318.6,492.3 302.5,496.9 310.0,498.8 330.0,499.9 349.8,500.0 370.0,501.8 418.0,502.3" stroke="#00c000" stroke-width="2" fill="none" stroke-linejoin="round" stroke-linecap="round" /><polyline points="421.0,505.0 420.2,509.8 416.8,512.1 415.7,515.0 416.8,517.8 413.4,520.1 408.8,522.4 406.5,524.7 403.1,526.4 398.5,529.2 395.1,532.7 392.8,537.2 396.3,539.5 398.5,541.8 398.5,544.0" stroke="#00c000" stroke-width="2" fill="none" stroke-linejoin="round" stroke-linecap="round" /><polyline points="424.3,216.9 409.2,218.7 395.8,220.0 382.3,221.4 375.5,222.3 374.9,224.1 378.2,226.1 387.7,228.1 397.1,229.5 401.2,231.5 400.5,233.5 394.4,234.9 386.3,236.2 380.9,238.2 379.6,240.2 382.3,242.3 389.0,245.6 391.7,248.3 390.4,250.4 382.3,252.0 368.8,253.7 355.3,256.4 346.4,257.5" stroke="#00c000" stroke-width="2.2" fill="none" stroke-linejoin="round" stroke-linecap="round" /><polyline points="424.0,216.3 408.9,218.1 395.5,219.4 382.0,220.8 375.2,221.7 374.6,223.5 377.9,225.5 387.4,227.5 396.8,228.9 400.9,230.9 400.2,232.9 394.1,234.3 386.0,235.6 380.6,237.6 379.3,239.6 382.0,241.7 388.7,245.0 391.4,247.7 390.1,249.8 382.0,251.4 368.5,253.1 355.0,255.8 346.1,256.9 348.6,259.4 352.3,261.2 352.9,264.3 354.8,266.8 349.8,268.7 346.1,270.6 341.1,273.7 338.0,276.8 334.9,279.3 337.4,281.2 342.4,281.8 341.1,284.3 336.1,286.1 334.9,288.6 336.1,292.4 336.8,297.3 337.4,302.3 335.5,306.1 331.8,309.8 328.0,312.9 325.5,315.6 329.9,317.5 334.9,320.0 337.4,322.5 336.7,326.2 333.6,329.3 328.6,331.2 331.1,332.4 334.9,334.3 332.4,337.4 331.1,340.5 333.6,343.6 337.4,347.4 341.1,349.9 337.4,352.3 336.1,354.8 338.6,357.3 336.1,359.8 331.1,362.3 327.4,364.2 331.1,366.0 336.0,369.4 340.3,373.1 338.9,376.7 340.3,379.6 347.6,383.2 354.9,385.4 360.7,386.9 363.6,389.0 365.0,392.7 363.6,396.3 356.3,399.2 346.1,401.4 334.5,403.6 325.8,405.7 307.4,407.7 288.7,409.3 286.8,411.2 287.4,416.2 287.4,424.9 286.2,429.9 282.5,432.4 283.1,436.1 284.9,439.2 281.2,441.1 274.9,442.5 270.7,444.1 271.6,448.3 273.2,453.3 274.9,458.3 279.9,463.2 283.2,467.4 289.8,469.9 283.2,471.5 273.2,474.0 266.6,478.2 263.3,482.3 264.9,484.0 274.9,485.6 291.5,487.3 308.1,488.1 327.4,488.3 317.4,489.2 308.7,491.7 302.5,494.2 297.5,496.7 302.5,497.9 314.9,498.5 327.4,499.2 349.8,499.8 370.0,501.5 419.7,502.0 420.2,504.1 419.1,507.6 415.7,509.8 412.2,511.0 410.0,514.4 408.8,517.8 404.2,520.7 399.7,522.4 396.3,525.3 392.8,527.5 387.1,529.2 382.6,531.0 382.6,533.8 384.3,536.1 382.6,538.4 382.0,541.8 381.4,544.0" stroke="#0000ff" stroke-width="2.5" fill="none" stroke-linejoin="round" stroke-linecap="round" /></g><path d="M76.5 179.0H420.5" stroke="#000" stroke-width="2" stroke-dasharray="8.5 2.25" fill="none"/><path d="M76.5 218.0H420.5" stroke="#000" stroke-width="2" stroke-dasharray="8.5 2.25" fill="none"/><path d="M76.5 257.0H420.5" stroke="#000" stroke-width="2" stroke-dasharray="8.5 2.25" fill="none"/><path d="M76.5 500.5H420.5" stroke="#000" stroke-width="2" stroke-dasharray="8.5 2.25" fill="none"/><path d="M8.5 8.0H472.5" stroke="#5a5a5a" stroke-width="1.6" fill="none"/><path d="M8.5 178.5H472.5" stroke="#333" stroke-width="1" fill="none"/><path d="M8.5 543.5H472.5" stroke="#222" stroke-width="1.1" fill="none"/><path d="M8.5 4V544.0M472.5 4V544.0" stroke="#1e1e1e" stroke-width="1.2" fill="none"/><path d="M76.5 8.0V543.5M248.5 8.0V543.5M420.5 8.0V543.5" stroke="#3a3a3a" stroke-width="1.1" fill="none"/><text x="0" y="0" transform="translate(99.1 163.6) rotate(-90)" fill="#1a1a1a" stroke="#1a1a1a" stroke-width="0.18" textLength="86.10000000000001" lengthAdjust="spacingAndGlyphs" style="font-family:'DejaVu Sans Condensed','DejaVu Sans',sans-serif;font-size:11px">GR [0, 150] (API)</text><text x="0" y="0" transform="translate(132.8 163.6) rotate(-90)" fill="#ff1a1a" stroke="#ff1a1a" stroke-width="0.18" textLength="108.7" lengthAdjust="spacingAndGlyphs" style="font-family:'DejaVu Sans Condensed','DejaVu Sans',sans-serif;font-size:11px">CALI [100, 600] (mm)</text><text x="0" y="0" transform="translate(167.6 163.6) rotate(-90)" fill="#1a1aff" stroke="#1a1aff" stroke-width="0.18" textLength="94.4" lengthAdjust="spacingAndGlyphs" style="font-family:'DejaVu Sans Condensed','DejaVu Sans',sans-serif;font-size:11px">NPHI [-15, 45] (%)</text><text x="0" y="0" transform="translate(201.3 163.6) rotate(-90)" fill="#ff2020" stroke="#ff2020" stroke-width="0.18" textLength="105.3" lengthAdjust="spacingAndGlyphs" style="font-family:'DejaVu Sans Condensed','DejaVu Sans',sans-serif;font-size:11px">RHOB [2, 3] (g/cm3)</text><text x="0" y="0" transform="translate(236.4 163.6) rotate(-90)" fill="#ff1aff" stroke="#ff1aff" stroke-width="0.18" textLength="107.7" lengthAdjust="spacingAndGlyphs" style="font-family:'DejaVu Sans Condensed','DejaVu Sans',sans-serif;font-size:11px">DT [100, 600] (us/m)</text><text x="0" y="0" transform="translate(271.5 163.6) rotate(-90)" fill="#1a1a1a" stroke="#1a1a1a" stroke-width="0.18" textLength="133.7" lengthAdjust="spacingAndGlyphs" style="font-family:'DejaVu Sans Condensed','DejaVu Sans',sans-serif;font-size:11px">MSFL [0.2, 2000] (ohm.m)</text><text x="0" y="0" transform="translate(305.6 163.6) rotate(-90)" fill="#22c022" stroke="#22c022" stroke-width="0.18" textLength="123.3" lengthAdjust="spacingAndGlyphs" style="font-family:'DejaVu Sans Condensed','DejaVu Sans',sans-serif;font-size:11px">LLS [0.2, 2000] (ohm.m)</text><text x="0" y="0" transform="translate(339.8 163.6) rotate(-90)" fill="#ff5050" stroke="#ff5050" stroke-width="0.18" textLength="125.10000000000001" lengthAdjust="spacingAndGlyphs" style="font-family:'DejaVu Sans Condensed','DejaVu Sans',sans-serif;font-size:11px">LLD [0.2, 2000] (ohm.m)</text><text x="0" y="0" transform="translate(373.8 163.6) rotate(-90)" fill="#ff1aff" stroke="#ff1aff" stroke-width="0.18" textLength="133.7" lengthAdjust="spacingAndGlyphs" style="font-family:'DejaVu Sans Condensed','DejaVu Sans',sans-serif;font-size:11px">LLDO [0.2, 2000] (ohm.m)</text><text x="0" y="0" transform="translate(407.8 163.6) rotate(-90)" fill="#2020ff" stroke="#2020ff" stroke-width="0.18" textLength="150.29999999999998" lengthAdjust="spacingAndGlyphs" style="font-family:'DejaVu Sans Condensed','DejaVu Sans',sans-serif;font-size:11px">RT_PRED [0.2, 2000] (ohm.m)</text><text x="0" y="0" transform="translate(453 120.6) rotate(-90)" fill="#111" textLength="59.8" lengthAdjust="spacingAndGlyphs" style="font-family:'DejaVu Sans Condensed','DejaVu Sans',sans-serif;font-size:14px">Lithology</text><text x="42.3" y="136.7" text-anchor="middle" fill="#111" style="font-family:'DejaVu Sans','Liberation Sans',sans-serif;font-weight:bold;font-size:13px">Depth</text><text x="41.1" y="150.6" text-anchor="middle" fill="#111" style="font-family:'DejaVu Sans','Liberation Sans',sans-serif;font-weight:bold;font-size:13px">(m)</text><text x="41.7" y="165.4" text-anchor="middle" fill="#111" textLength="43" lengthAdjust="spacingAndGlyphs" style="font-family:'DejaVu Sans','Liberation Sans',sans-serif;font-weight:bold;font-size:13px">1:500</text><rect x="15.8" y="481.5" width="24" height="13.8" fill="#000"/><text x="42.5" y="495.3" fill="#111" style="font-family:'DejaVu Sans','Liberation Sans',sans-serif;font-weight:bold;font-size:18px">50</text><path d="M8.5 488.3h6M70.1 488.3h6.4" stroke="#333" stroke-width="1" fill="none"/></svg></body></html>
